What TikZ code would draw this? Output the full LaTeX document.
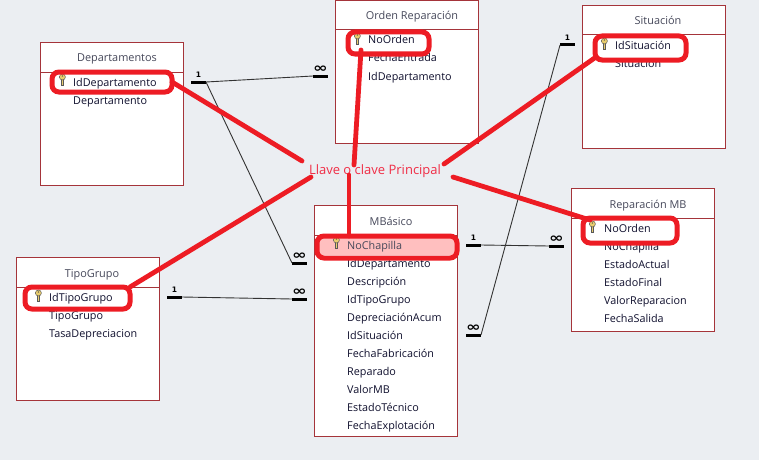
\documentclass[tikz,border=0pt]{standalone}
\usepackage{fontspec}
\setmainfont{Open Sans}
\newfontfamily\markfont{DejaVu Sans}
\usetikzlibrary{positioning,calc}
\definecolor{bgcol}{RGB}{235,238,242}
\definecolor{boxcol}{RGB}{165,52,58}
\definecolor{keyred}{RGB}{237,28,36}
\definecolor{lblred}{RGB}{240,45,70}
\definecolor{titlecol}{RGB}{70,72,90}
\definecolor{fieldcol}{RGB}{15,15,45}
\definecolor{keycol}{RGB}{232,205,110}
\tikzset{
  tablebox/.style={draw=boxcol,fill=white,line width=1pt,minimum width=143pt,inner sep=0pt,outer sep=0pt},
  headline/.style={draw=boxcol,line width=1pt},
  titletext/.style={font=\fontsize{10.9}{12}\selectfont,text=titlecol,inner sep=0pt,text height=9.5pt,text depth=1.5pt},
  fieldtext/.style={font=\fontsize{10.8}{12}\selectfont,text=fieldcol,anchor=west,inner sep=0pt,text height=9.5pt,text depth=1.5pt},
  keybox/.style={draw=keyred,line width=5pt,rounded corners=7pt,inner sep=0pt,outer sep=0pt},
  keyline/.style={draw=keyred,line width=4.8pt,line cap=round},
  relbar/.style={fill=black,minimum width=15pt,minimum height=3pt,inner sep=0pt,outer sep=0pt},
  relline/.style={draw=black!80,line width=0.9pt},
  onetext/.style={font=\markfont\bfseries\fontsize{7.5}{8}\selectfont,inner sep=0pt},
  manytext/.style={font=\markfont\bfseries\fontsize{13}{8}\selectfont,inner sep=0pt},
}
\newcommand{\keyicon}[1]{%
  \fill[keycol,draw=black!65,line width=0.5pt] ($(#1)+(-0.8,-2)$) rectangle ++(2.4,7);
  \fill[keycol,draw=black!65,line width=0.5pt] ($(#1)+(0.4,-3)$) circle (3pt);
  \fill[black!70] ($(#1)+(0.4,-4)$) circle (0.7pt);
}
\begin{document}
\begin{tikzpicture}[x=1pt,y=-1pt]
\useasboundingbox (0,0) rectangle (759,460);
\fill[bgcol] (0,0) rectangle (759,460);

% tables
\node[tablebox,minimum height=143pt] (dep) at (112,114) {};
\draw[headline] (dep.west |- 0,72) -- (dep.east |- 0,72);
\node[titletext] (depT) at (117,58) {Departamentos};
\foreach \n [count=\i] in {IdDepartamento,Departamento}
  \node[fieldtext] (dep\i) at (73,{64+18*\i}) {\n};

\node[tablebox,minimum height=143pt] (ord) at (407,72) {};
\draw[headline] (ord.west |- 0,30) -- (ord.east |- 0,30);
\node[titletext] (ordT) at (412,16) {Orden Reparación};
\foreach \n [count=\i] in {NoOrden,FechaEntrada,IdDepartamento}
  \node[fieldtext] (ord\i) at (368,{22+18*\i}) {\n};

\node[tablebox,minimum height=143pt] (sit) at (654,77) {};
\draw[headline] (sit.west |- 0,35) -- (sit.east |- 0,35);
\node[titletext] (sitT) at (658,21) {Situación};
\foreach \n [count=\i] in {IdSituación,Situación}
  \node[fieldtext] (sit\i) at (615,{27+18*\i}) {\n};

\node[tablebox,minimum height=143pt] (rep) at (643,260) {};
\draw[headline] (rep.west |- 0,218) -- (rep.east |- 0,218);
\node[titletext] (repT) at (648,204) {Reparación MB};
\foreach \n [count=\i] in {NoOrden,NoChapilla,EstadoActual,EstadoFinal,ValorReparacion,FechaSalida}
  \node[fieldtext] (rep\i) at (604,{210+18*\i}) {\n};

\node[tablebox,minimum height=231pt] (mbs) at (386,321) {};
\draw[headline] (mbs.west |- 0,235) -- (mbs.east |- 0,235);
\node[titletext] (mbsT) at (391,221) {MBásico};
\fill[red!25] (318,237) rectangle (456,255);
\node[fieldtext,text=titlecol] (mbs1) at (347,245) {NoChapilla};
\foreach \n [count=\i from 2] in {IdDepartamento,Descripción,IdTipoGrupo,DepreciaciónAcum,IdSituación,FechaFabricación,Reparado,ValorMB,EstadoTécnico,FechaExplotación}
  \node[fieldtext] (mbs\i) at (347,{227+18*\i}) {\n};

\node[tablebox,minimum height=143pt] (tip) at (88,329) {};
\draw[headline] (tip.west |- 0,287) -- (tip.east |- 0,287);
\node[titletext] (tipT) at (92,273) {TipoGrupo};
\foreach \n [count=\i] in {IdTipoGrupo,TipoGrupo,TasaDepreciacion}
  \node[fieldtext] (tip\i) at (49,{279+18*\i}) {\n};

% keys
\keyicon{62,80}
\keyicon{357,39}
\keyicon{604,44}
\keyicon{592,227}
\keyicon{336,243}
\keyicon{38,296}

% relation bars
\node[relbar] (depOne) at (198.5,82) {};
\node[relbar] (ordMany) at (320.5,76) {};
\node[relbar] (mbsManyA) at (299.5,263) {};
\node[relbar] (tipOne) at (174.5,297) {};
\node[relbar] (mbsManyB) at (299.5,299) {};
\node[relbar] (mbsOne) at (473.5,245) {};
\node[relbar] (repMany) at (556.5,246) {};
\node[relbar] (sitOne) at (567.5,45) {};
\node[relbar] (mbsManyC) at (473.5,335) {};

\draw[relline] (depOne.east) -- (ordMany.west);
\draw[relline] (depOne.east) -- (mbsManyA.west);
\draw[relline] (tipOne.east) -- (mbsManyB.west);
\draw[relline] (mbsOne.east) -- (repMany.west);
\draw[relline] (sitOne.west) -- (mbsManyC.east);

\foreach \b in {depOne,tipOne,mbsOne,sitOne}
  \node[onetext,above=2.5pt of \b] (\b T) {1};
\foreach \b in {ordMany,mbsManyA,mbsManyB,repMany,mbsManyC}
  \node[manytext,above=2pt of \b] (\b T) {\scalebox{1.35}[1]{∞}};

% red marks
\node[keybox,minimum width=120pt,minimum height=20pt] (depKey) at (112,82) {};
\node[keybox,minimum width=81pt,minimum height=22pt] (ordKey) at (388.5,43) {};
\node[keybox,minimum width=91pt,minimum height=24pt] (sitKey) at (640.5,48) {};
\node[keybox,minimum width=94pt,minimum height=25pt] (repKey) at (630,230.5) {};
\node[keybox,minimum width=140pt,minimum height=22pt] (mbsKey) at (387,247) {};
\node[keybox,minimum width=105pt,minimum height=22pt] (tipKey) at (77.5,298) {};

\node[font=\fontsize{13}{14}\selectfont,text=lblred,inner sep=0pt] (lbl) at (375,171) {Llave o clave Principal};

\coordinate (lblA) at (302,161);
\coordinate (lblB) at (354,165);
\coordinate (lblC) at (444,164);
\coordinate (lblD) at (453,177);
\coordinate (lblE) at (349,175);
\coordinate (lblF) at (311,177);
\coordinate (ordEnd) at (361,50);
\coordinate (sitEnd) at (596,57);
\coordinate (repEnd) at (590,220);
\draw[keyline] (depKey.east) -- (lblA);
\draw[keyline] (ordEnd) -- (lblB);
\draw[keyline] (sitEnd) -- (lblC);
\draw[keyline] (repEnd) -- (lblD);
\draw[keyline] (mbsKey.north -| lblE) -- (lblE);
\draw[keyline] (tipKey.north east) -- (lblF);
\end{tikzpicture}
\end{document}
